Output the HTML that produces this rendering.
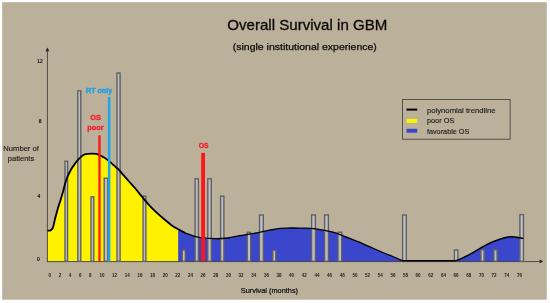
<!DOCTYPE html>
<html><head><meta charset="utf-8"><title>Overall Survival in GBM</title>
<style>html,body{margin:0;padding:0;background:#fff}svg{display:block}text{font-family:"Liberation Sans",sans-serif}</style></head>
<body>
<svg width="550" height="303" viewBox="0 0 550 303">
<rect x="0" y="0" width="550" height="303" fill="#fff"/>
<rect x="2.2" y="2.2" width="544.6" height="297.5" fill="#BBB09A"/>
<defs><clipPath id="cy"><rect x="47" y="100" width="131.2" height="162"/></clipPath><clipPath id="cb"><rect x="178.2" y="100" width="342" height="162"/></clipPath></defs>
<path d="M47.5,230.6C48.0,230.5 49.9,230.8 50.8,230.2C51.7,229.6 52.3,229.1 53.0,227.3C53.7,225.5 54.1,222.6 54.9,219.5C55.7,216.4 56.8,212.1 57.7,208.9C58.6,205.7 59.6,203.1 60.5,200.2C61.4,197.3 62.1,194.9 63.1,191.5C64.0,188.1 64.9,183.6 66.2,180.0C67.5,176.4 69.5,172.4 70.9,169.8C72.3,167.2 73.3,166.1 74.5,164.4C75.7,162.7 77.0,161.1 78.2,159.7C79.4,158.3 80.7,157.0 81.8,156.1C82.9,155.2 83.8,154.8 84.7,154.4C85.7,154.0 86.3,153.9 87.5,153.8C88.7,153.7 90.5,153.6 92.0,153.6C93.5,153.6 95.2,153.6 96.4,153.9C97.6,154.2 98.1,154.5 99.4,155.2C100.8,155.8 102.8,156.8 104.5,157.8C106.2,158.9 107.9,160.2 109.5,161.5C111.1,162.8 112.4,164.1 113.9,165.4C115.4,166.7 116.8,167.7 118.3,169.2C119.8,170.7 120.8,172.1 122.7,174.3C124.7,176.5 128.0,180.3 130.0,182.5C132.0,184.7 132.5,185.2 134.5,187.5C136.5,189.8 139.4,193.5 141.8,196.4C144.2,199.3 146.7,202.4 149.1,205.1C151.5,207.8 153.8,210.0 156.4,212.4C159.0,214.8 161.9,217.3 164.5,219.5C167.1,221.7 169.4,223.7 171.8,225.4C174.2,227.1 176.7,228.4 179.1,229.7C181.5,231.0 184.0,232.3 186.4,233.4C188.8,234.5 191.2,235.3 193.6,236.0C196.0,236.7 197.2,237.2 200.9,237.7C204.6,238.1 211.0,238.6 215.5,238.7C220.0,238.8 224.0,238.5 228.0,238.0C232.0,237.5 235.2,236.5 239.5,235.7C243.8,234.9 249.2,234.2 254.0,233.3C258.9,232.4 264.2,231.2 268.6,230.4C273.0,229.6 276.7,228.8 280.3,228.4C283.9,228.0 287.2,228.1 290.5,228.0C293.8,227.9 296.6,228.0 300.0,228.1C303.4,228.2 307.6,228.2 310.9,228.4C314.2,228.7 316.1,228.9 320.0,229.6C323.9,230.3 329.6,231.2 334.5,232.6C339.4,234.0 344.2,236.3 349.1,238.2C354.0,240.1 358.8,242.0 363.6,244.1C368.5,246.2 373.4,248.4 378.2,250.5C383.0,252.6 388.8,254.9 392.7,256.5C396.6,258.1 399.9,259.6 401.3,260.2L401.3,261.6L47.5,261.6Z" fill="#FFF200" clip-path="url(#cy)"/>
<path d="M47.5,230.6C48.0,230.5 49.9,230.8 50.8,230.2C51.7,229.6 52.3,229.1 53.0,227.3C53.7,225.5 54.1,222.6 54.9,219.5C55.7,216.4 56.8,212.1 57.7,208.9C58.6,205.7 59.6,203.1 60.5,200.2C61.4,197.3 62.1,194.9 63.1,191.5C64.0,188.1 64.9,183.6 66.2,180.0C67.5,176.4 69.5,172.4 70.9,169.8C72.3,167.2 73.3,166.1 74.5,164.4C75.7,162.7 77.0,161.1 78.2,159.7C79.4,158.3 80.7,157.0 81.8,156.1C82.9,155.2 83.8,154.8 84.7,154.4C85.7,154.0 86.3,153.9 87.5,153.8C88.7,153.7 90.5,153.6 92.0,153.6C93.5,153.6 95.2,153.6 96.4,153.9C97.6,154.2 98.1,154.5 99.4,155.2C100.8,155.8 102.8,156.8 104.5,157.8C106.2,158.9 107.9,160.2 109.5,161.5C111.1,162.8 112.4,164.1 113.9,165.4C115.4,166.7 116.8,167.7 118.3,169.2C119.8,170.7 120.8,172.1 122.7,174.3C124.7,176.5 128.0,180.3 130.0,182.5C132.0,184.7 132.5,185.2 134.5,187.5C136.5,189.8 139.4,193.5 141.8,196.4C144.2,199.3 146.7,202.4 149.1,205.1C151.5,207.8 153.8,210.0 156.4,212.4C159.0,214.8 161.9,217.3 164.5,219.5C167.1,221.7 169.4,223.7 171.8,225.4C174.2,227.1 176.7,228.4 179.1,229.7C181.5,231.0 184.0,232.3 186.4,233.4C188.8,234.5 191.2,235.3 193.6,236.0C196.0,236.7 197.2,237.2 200.9,237.7C204.6,238.1 211.0,238.6 215.5,238.7C220.0,238.8 224.0,238.5 228.0,238.0C232.0,237.5 235.2,236.5 239.5,235.7C243.8,234.9 249.2,234.2 254.0,233.3C258.9,232.4 264.2,231.2 268.6,230.4C273.0,229.6 276.7,228.8 280.3,228.4C283.9,228.0 287.2,228.1 290.5,228.0C293.8,227.9 296.6,228.0 300.0,228.1C303.4,228.2 307.6,228.2 310.9,228.4C314.2,228.7 316.1,228.9 320.0,229.6C323.9,230.3 329.6,231.2 334.5,232.6C339.4,234.0 344.2,236.3 349.1,238.2C354.0,240.1 358.8,242.0 363.6,244.1C368.5,246.2 373.4,248.4 378.2,250.5C383.0,252.6 388.8,254.9 392.7,256.5C396.6,258.1 399.9,259.6 401.3,260.2L401.3,261.6L47.5,261.6Z" fill="#3A46CB" clip-path="url(#cb)"/>
<path d="M456.3,260.8C457.4,260.3 460.2,259.1 462.7,257.9C465.2,256.7 467.9,255.4 471.1,253.6C474.3,251.8 478.2,249.2 481.7,247.3C485.2,245.4 488.8,243.5 492.3,242.0C495.8,240.5 499.7,239.1 502.9,238.2C506.1,237.3 508.5,236.8 511.3,236.7C514.1,236.6 518.4,237.6 519.8,237.8L519.8,261.6L456.3,261.6Z" fill="#3A46CB"/>
<path d="M47.4,262V50" stroke="#3a3834" stroke-width="0.85" fill="none"/>
<path d="M47.4,47.4L49.3,51.2H45.5Z" fill="#222"/>
<path d="M47,261.6H540" stroke="#3a3834" stroke-width="0.85" fill="none"/>
<path d="M543.2,261.4L539.6,259.6V263.2Z" fill="#222"/>
<rect x="65.0" y="161.2" width="2.6" height="100.0" fill="#BEBEBE" stroke="#5e5e64" stroke-width="1.35"/>
<rect x="77.8" y="90.8" width="3.0" height="170.5" fill="#BEBEBE" stroke="#5e5e64" stroke-width="1.35"/>
<rect x="91.0" y="196.8" width="2.8" height="64.5" fill="#BEBEBE" stroke="#5e5e64" stroke-width="1.35"/>
<rect x="104.2" y="178.2" width="3.6" height="83.0" fill="#BEBEBE" stroke="#5e5e64" stroke-width="1.35"/>
<rect x="117.0" y="73.0" width="3.1" height="188.3" fill="#BEBEBE" stroke="#5e5e64" stroke-width="1.35"/>
<rect x="143.1" y="196.2" width="2.8" height="65.1" fill="#BEBEBE" stroke="#5e5e64" stroke-width="1.35"/>
<rect x="182.2" y="250.0" width="3.1" height="11.3" fill="#BEBEBE" stroke="#5e5e64" stroke-width="1.35"/>
<rect x="195.1" y="178.8" width="3.3" height="82.4" fill="#BEBEBE" stroke="#5e5e64" stroke-width="1.35"/>
<rect x="207.8" y="178.8" width="3.5" height="82.4" fill="#BEBEBE" stroke="#5e5e64" stroke-width="1.35"/>
<rect x="220.6" y="196.2" width="3.3" height="65.0" fill="#BEBEBE" stroke="#5e5e64" stroke-width="1.35"/>
<rect x="247.2" y="232.3" width="3.5" height="28.9" fill="#BEBEBE" stroke="#5e5e64" stroke-width="1.35"/>
<rect x="259.5" y="215.0" width="3.8" height="46.3" fill="#BEBEBE" stroke="#5e5e64" stroke-width="1.35"/>
<rect x="272.8" y="250.2" width="3.0" height="11.0" fill="#BEBEBE" stroke="#5e5e64" stroke-width="1.35"/>
<rect x="311.6" y="215.0" width="3.8" height="46.3" fill="#BEBEBE" stroke="#5e5e64" stroke-width="1.35"/>
<rect x="324.6" y="215.0" width="3.8" height="46.3" fill="#BEBEBE" stroke="#5e5e64" stroke-width="1.35"/>
<rect x="338.0" y="232.2" width="3.7" height="29.1" fill="#BEBEBE" stroke="#5e5e64" stroke-width="1.35"/>
<rect x="402.6" y="215.0" width="3.7" height="46.3" fill="#BEBEBE" stroke="#5e5e64" stroke-width="1.35"/>
<rect x="454.4" y="250.0" width="3.5" height="11.3" fill="#BEBEBE" stroke="#5e5e64" stroke-width="1.35"/>
<rect x="480.9" y="249.8" width="3.2" height="11.4" fill="#BEBEBE" stroke="#5e5e64" stroke-width="1.35"/>
<rect x="493.9" y="249.8" width="3.2" height="11.4" fill="#BEBEBE" stroke="#5e5e64" stroke-width="1.35"/>
<rect x="519.9" y="214.6" width="3.6" height="46.7" fill="#BEBEBE" stroke="#5e5e64" stroke-width="1.35"/>
<defs><clipPath id="c1"><rect x="40" y="100" width="145" height="170"/></clipPath><clipPath id="c2"><rect x="185" y="100" width="360" height="170"/></clipPath></defs>
<path d="M47.5,230.6C48.0,230.5 49.9,230.8 50.8,230.2C51.7,229.6 52.3,229.1 53.0,227.3C53.7,225.5 54.1,222.6 54.9,219.5C55.7,216.4 56.8,212.1 57.7,208.9C58.6,205.7 59.6,203.1 60.5,200.2C61.4,197.3 62.1,194.9 63.1,191.5C64.0,188.1 64.9,183.6 66.2,180.0C67.5,176.4 69.5,172.4 70.9,169.8C72.3,167.2 73.3,166.1 74.5,164.4C75.7,162.7 77.0,161.1 78.2,159.7C79.4,158.3 80.7,157.0 81.8,156.1C82.9,155.2 83.8,154.8 84.7,154.4C85.7,154.0 86.3,153.9 87.5,153.8C88.7,153.7 90.5,153.6 92.0,153.6C93.5,153.6 95.2,153.6 96.4,153.9C97.6,154.2 98.1,154.5 99.4,155.2C100.8,155.8 102.8,156.8 104.5,157.8C106.2,158.9 107.9,160.2 109.5,161.5C111.1,162.8 112.4,164.1 113.9,165.4C115.4,166.7 116.8,167.7 118.3,169.2C119.8,170.7 120.8,172.1 122.7,174.3C124.7,176.5 128.0,180.3 130.0,182.5C132.0,184.7 132.5,185.2 134.5,187.5C136.5,189.8 139.4,193.5 141.8,196.4C144.2,199.3 146.7,202.4 149.1,205.1C151.5,207.8 153.8,210.0 156.4,212.4C159.0,214.8 161.9,217.3 164.5,219.5C167.1,221.7 169.4,223.7 171.8,225.4C174.2,227.1 176.7,228.4 179.1,229.7C181.5,231.0 184.0,232.3 186.4,233.4C188.8,234.5 191.2,235.3 193.6,236.0C196.0,236.7 197.2,237.2 200.9,237.7C204.6,238.1 211.0,238.6 215.5,238.7C220.0,238.8 224.0,238.5 228.0,238.0C232.0,237.5 235.2,236.5 239.5,235.7C243.8,234.9 249.2,234.2 254.0,233.3C258.9,232.4 264.2,231.2 268.6,230.4C273.0,229.6 276.7,228.8 280.3,228.4C283.9,228.0 287.2,228.1 290.5,228.0C293.8,227.9 296.6,228.0 300.0,228.1C303.4,228.2 307.6,228.2 310.9,228.4C314.2,228.7 316.1,228.9 320.0,229.6C323.9,230.3 329.6,231.2 334.5,232.6C339.4,234.0 344.2,236.3 349.1,238.2C354.0,240.1 358.8,242.0 363.6,244.1C368.5,246.2 373.4,248.4 378.2,250.5C383.0,252.6 388.8,254.9 392.7,256.5C396.6,258.1 399.9,259.6 401.3,260.2" stroke="#000" stroke-width="1.85" fill="none" clip-path="url(#c1)"/>
<path d="M47.5,230.6C48.0,230.5 49.9,230.8 50.8,230.2C51.7,229.6 52.3,229.1 53.0,227.3C53.7,225.5 54.1,222.6 54.9,219.5C55.7,216.4 56.8,212.1 57.7,208.9C58.6,205.7 59.6,203.1 60.5,200.2C61.4,197.3 62.1,194.9 63.1,191.5C64.0,188.1 64.9,183.6 66.2,180.0C67.5,176.4 69.5,172.4 70.9,169.8C72.3,167.2 73.3,166.1 74.5,164.4C75.7,162.7 77.0,161.1 78.2,159.7C79.4,158.3 80.7,157.0 81.8,156.1C82.9,155.2 83.8,154.8 84.7,154.4C85.7,154.0 86.3,153.9 87.5,153.8C88.7,153.7 90.5,153.6 92.0,153.6C93.5,153.6 95.2,153.6 96.4,153.9C97.6,154.2 98.1,154.5 99.4,155.2C100.8,155.8 102.8,156.8 104.5,157.8C106.2,158.9 107.9,160.2 109.5,161.5C111.1,162.8 112.4,164.1 113.9,165.4C115.4,166.7 116.8,167.7 118.3,169.2C119.8,170.7 120.8,172.1 122.7,174.3C124.7,176.5 128.0,180.3 130.0,182.5C132.0,184.7 132.5,185.2 134.5,187.5C136.5,189.8 139.4,193.5 141.8,196.4C144.2,199.3 146.7,202.4 149.1,205.1C151.5,207.8 153.8,210.0 156.4,212.4C159.0,214.8 161.9,217.3 164.5,219.5C167.1,221.7 169.4,223.7 171.8,225.4C174.2,227.1 176.7,228.4 179.1,229.7C181.5,231.0 184.0,232.3 186.4,233.4C188.8,234.5 191.2,235.3 193.6,236.0C196.0,236.7 197.2,237.2 200.9,237.7C204.6,238.1 211.0,238.6 215.5,238.7C220.0,238.8 224.0,238.5 228.0,238.0C232.0,237.5 235.2,236.5 239.5,235.7C243.8,234.9 249.2,234.2 254.0,233.3C258.9,232.4 264.2,231.2 268.6,230.4C273.0,229.6 276.7,228.8 280.3,228.4C283.9,228.0 287.2,228.1 290.5,228.0C293.8,227.9 296.6,228.0 300.0,228.1C303.4,228.2 307.6,228.2 310.9,228.4C314.2,228.7 316.1,228.9 320.0,229.6C323.9,230.3 329.6,231.2 334.5,232.6C339.4,234.0 344.2,236.3 349.1,238.2C354.0,240.1 358.8,242.0 363.6,244.1C368.5,246.2 373.4,248.4 378.2,250.5C383.0,252.6 388.8,254.9 392.7,256.5C396.6,258.1 399.9,259.6 401.3,260.2" stroke="#000" stroke-width="1.35" fill="none" clip-path="url(#c2)"/>
<path d="M401.3,260.2L403,260.8H455L456.3,260.8" stroke="#000" stroke-width="1.5" fill="none"/>
<path d="M456.3,260.8C457.4,260.3 460.2,259.1 462.7,257.9C465.2,256.7 467.9,255.4 471.1,253.6C474.3,251.8 478.2,249.2 481.7,247.3C485.2,245.4 488.8,243.5 492.3,242.0C495.8,240.5 499.7,239.1 502.9,238.2C506.1,237.3 508.5,236.8 511.3,236.7C514.1,236.6 518.4,237.6 519.8,237.8L523.3,238.5" stroke="#000" stroke-width="1.5" fill="none"/>
<rect x="98.35" y="135.3" width="2.3" height="126" fill="#FF1515"/>
<rect x="107.9" y="97" width="2.5" height="164.4" fill="#1CA7EC"/>
<rect x="201.2" y="152.9" width="3.8" height="108.5" fill="#FF1515"/>
<text x="307.3" y="30.1" font-size="14.6" text-anchor="middle" fill="#0a0a0a" stroke="#0a0a0a" stroke-width="0.3" textLength="160" lengthAdjust="spacingAndGlyphs">Overall Survival in GBM</text>
<text x="304.8" y="49.5" font-size="9.8" text-anchor="middle" fill="#0a0a0a" stroke="#0a0a0a" stroke-width="0.25" textLength="144" lengthAdjust="spacingAndGlyphs">(single institutional experience)</text>
<text x="21.1" y="151.1" font-size="7.9" text-anchor="middle" fill="#1c1c1c" stroke="#1c1c1c" stroke-width="0.15" textLength="35.6" lengthAdjust="spacingAndGlyphs">Number of</text>
<text x="21" y="160.6" font-size="7.9" text-anchor="middle" fill="#1c1c1c" stroke="#1c1c1c" stroke-width="0.15" textLength="26.5" lengthAdjust="spacingAndGlyphs">patients</text>
<text x="269.4" y="293.3" font-size="7.8" text-anchor="middle" fill="#0a0a0a" stroke="#0a0a0a" stroke-width="0.2" textLength="57.3" lengthAdjust="spacingAndGlyphs">Survival (months)</text>
<text x="39.9" y="62.7" font-size="4.9" text-anchor="middle" fill="#111" stroke="#111" stroke-width="0.2">12</text>
<text x="40.2" y="122.6" font-size="4.9" text-anchor="middle" fill="#111" stroke="#111" stroke-width="0.2">8</text>
<text x="38.9" y="197.7" font-size="4.9" text-anchor="middle" fill="#111" stroke="#111" stroke-width="0.2">4</text>
<text x="38.4" y="260.9" font-size="4.9" text-anchor="middle" fill="#111" stroke="#111" stroke-width="0.2">0</text>
<text x="49.7" y="276.8" font-size="4.5" font-weight="bold" text-anchor="middle" fill="#222">0</text>
<text x="59.9" y="276.8" font-size="4.5" font-weight="bold" text-anchor="middle" fill="#222">2</text>
<text x="70.0" y="276.8" font-size="4.5" font-weight="bold" text-anchor="middle" fill="#222">4</text>
<text x="80.2" y="276.8" font-size="4.5" font-weight="bold" text-anchor="middle" fill="#222">6</text>
<text x="90.3" y="276.8" font-size="4.5" font-weight="bold" text-anchor="middle" fill="#222">8</text>
<text x="101.9" y="276.8" font-size="4.5" font-weight="bold" text-anchor="middle" fill="#222">10</text>
<text x="114.6" y="276.8" font-size="4.5" font-weight="bold" text-anchor="middle" fill="#222">12</text>
<text x="127.2" y="276.8" font-size="4.5" font-weight="bold" text-anchor="middle" fill="#222">14</text>
<text x="139.9" y="276.8" font-size="4.5" font-weight="bold" text-anchor="middle" fill="#222">16</text>
<text x="152.5" y="276.8" font-size="4.5" font-weight="bold" text-anchor="middle" fill="#222">18</text>
<text x="165.2" y="276.8" font-size="4.5" font-weight="bold" text-anchor="middle" fill="#222">20</text>
<text x="177.8" y="276.8" font-size="4.5" font-weight="bold" text-anchor="middle" fill="#222">22</text>
<text x="190.4" y="276.8" font-size="4.5" font-weight="bold" text-anchor="middle" fill="#222">24</text>
<text x="203.1" y="276.8" font-size="4.5" font-weight="bold" text-anchor="middle" fill="#222">26</text>
<text x="215.8" y="276.8" font-size="4.5" font-weight="bold" text-anchor="middle" fill="#222">28</text>
<text x="228.4" y="276.8" font-size="4.5" font-weight="bold" text-anchor="middle" fill="#222">30</text>
<text x="241.1" y="276.8" font-size="4.5" font-weight="bold" text-anchor="middle" fill="#222">32</text>
<text x="253.7" y="276.8" font-size="4.5" font-weight="bold" text-anchor="middle" fill="#222">34</text>
<text x="266.4" y="276.8" font-size="4.5" font-weight="bold" text-anchor="middle" fill="#222">36</text>
<text x="279.0" y="276.8" font-size="4.5" font-weight="bold" text-anchor="middle" fill="#222">38</text>
<text x="291.6" y="276.8" font-size="4.5" font-weight="bold" text-anchor="middle" fill="#222">40</text>
<text x="304.3" y="276.8" font-size="4.5" font-weight="bold" text-anchor="middle" fill="#222">42</text>
<text x="317.0" y="276.8" font-size="4.5" font-weight="bold" text-anchor="middle" fill="#222">44</text>
<text x="329.6" y="276.8" font-size="4.5" font-weight="bold" text-anchor="middle" fill="#222">46</text>
<text x="342.2" y="276.8" font-size="4.5" font-weight="bold" text-anchor="middle" fill="#222">48</text>
<text x="354.9" y="276.8" font-size="4.5" font-weight="bold" text-anchor="middle" fill="#222">50</text>
<text x="367.6" y="276.8" font-size="4.5" font-weight="bold" text-anchor="middle" fill="#222">52</text>
<text x="380.2" y="276.8" font-size="4.5" font-weight="bold" text-anchor="middle" fill="#222">54</text>
<text x="392.9" y="276.8" font-size="4.5" font-weight="bold" text-anchor="middle" fill="#222">56</text>
<text x="405.5" y="276.8" font-size="4.5" font-weight="bold" text-anchor="middle" fill="#222">58</text>
<text x="418.1" y="276.8" font-size="4.5" font-weight="bold" text-anchor="middle" fill="#222">60</text>
<text x="430.8" y="276.8" font-size="4.5" font-weight="bold" text-anchor="middle" fill="#222">62</text>
<text x="443.5" y="276.8" font-size="4.5" font-weight="bold" text-anchor="middle" fill="#222">64</text>
<text x="456.1" y="276.8" font-size="4.5" font-weight="bold" text-anchor="middle" fill="#222">66</text>
<text x="468.8" y="276.8" font-size="4.5" font-weight="bold" text-anchor="middle" fill="#222">68</text>
<text x="481.4" y="276.8" font-size="4.5" font-weight="bold" text-anchor="middle" fill="#222">70</text>
<text x="494.1" y="276.8" font-size="4.5" font-weight="bold" text-anchor="middle" fill="#222">72</text>
<text x="506.7" y="276.8" font-size="4.5" font-weight="bold" text-anchor="middle" fill="#222">74</text>
<text x="519.4" y="276.8" font-size="4.5" font-weight="bold" text-anchor="middle" fill="#222">76</text>
<text x="99.1" y="92.7" font-size="7.3" font-weight="bold" text-anchor="middle" fill="#1CA0E8" stroke="#1CA0E8" stroke-width="0.4" textLength="26.0" lengthAdjust="spacingAndGlyphs">RT only</text>
<text x="95.5" y="120.4" font-size="7.4" font-weight="bold" text-anchor="middle" fill="#FA1A26" stroke="#FA1A26" stroke-width="0.3">OS</text>
<text x="95.4" y="130.3" font-size="7.4" font-weight="bold" text-anchor="middle" fill="#FA1A26" stroke="#FA1A26" stroke-width="0.3">poor</text>
<text x="203.6" y="148.0" textLength="9.8" lengthAdjust="spacingAndGlyphs" font-size="6.7" font-weight="bold" text-anchor="middle" fill="#FA1A26" stroke="#FA1A26" stroke-width="0.3">OS</text>
<rect x="402.6" y="99.4" width="107.5" height="39.8" fill="none" stroke="#3a3a3a" stroke-width="0.8"/>
<rect x="406.5" y="108.6" width="10.7" height="2" fill="#000"/>
<rect x="406.5" y="118.9" width="10.7" height="4" fill="#FFF200"/>
<rect x="406.5" y="128.8" width="10.7" height="3.9" fill="#3A46CB"/>
<text x="426.9" y="113" font-size="7.7" fill="#1e1e1e" stroke="#1e1e1e" stroke-width="0.15" textLength="68.7" lengthAdjust="spacingAndGlyphs">polynomial trendline</text>
<text x="426.9" y="123.4" font-size="7.7" fill="#1e1e1e" stroke="#1e1e1e" stroke-width="0.15" textLength="27.5" lengthAdjust="spacingAndGlyphs">poor OS</text>
<text x="426.9" y="133.5" font-size="7.7" fill="#1e1e1e" stroke="#1e1e1e" stroke-width="0.15" textLength="42.5" lengthAdjust="spacingAndGlyphs">favorable OS</text>
</svg>
</body></html>
